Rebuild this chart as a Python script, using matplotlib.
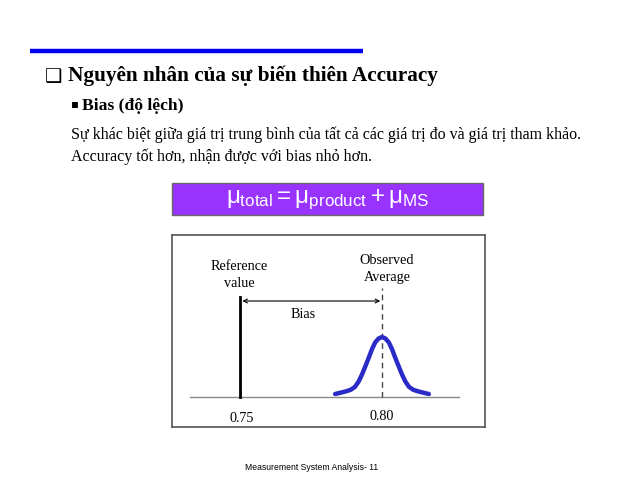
import matplotlib
matplotlib.use('Agg')
import matplotlib.pyplot as plt
from matplotlib.patches import Rectangle

# slide texts
slide_title = 'Nguyên nhân của sự biến thiên Accuracy'
sub_title = 'Bias (độ lệch)'
body_lines = ['Sự khác biệt giữa giá trị trung bình của tất cả các giá trị đo và giá trị tham khảo.',
              'Accuracy tốt hơn, nhận được với bias nhỏ hơn.']
formula = r'$\mu_{\mathrm{total}} = \mu_{\mathrm{product}} + \mu_{\mathrm{MS}}$'
footer = 'Measurement System Analysis- 11'

# chart values
ref_value = 0.75
obs_average = 0.80
tick_labels = ['0.75', '0.80']
curve_x = [0.7835, 0.7870, 0.7890, 0.7905, 0.7918, 0.7930, 0.7942, 0.7953, 0.7965,
           0.7976, 0.7988, 0.8000, 0.8012, 0.8024, 0.8035, 0.8047, 0.8058, 0.8070,
           0.8082, 0.8095, 0.8110, 0.8130, 0.8165]
curve_y = [0.05, 0.09, 0.12, 0.17, 0.26, 0.38, 0.52, 0.65, 0.80,
           0.91, 0.975, 1.00, 0.975, 0.91, 0.80, 0.65, 0.52, 0.38,
           0.26, 0.17, 0.12, 0.09, 0.05]

plt.rcParams['mathtext.fontset'] = 'custom'
plt.rcParams['mathtext.rm'] = 'Liberation Sans'
plt.rcParams['mathtext.it'] = 'Liberation Sans'

W, H = 638, 478
fig = plt.figure(figsize=(W / 100, H / 100), dpi=100)
fig.patch.set_facecolor('white')

# background axes in pixel units for the slide part
bg = fig.add_axes([0, 0, 1, 1])
bg.set_xlim(0, W)
bg.set_ylim(H, 0)
bg.axis('off')

serif = ['Liberation Serif', 'DejaVu Serif']
bg.plot([30, 363], [51, 51], color='#0000ee', lw=3.2, solid_capstyle='butt')
bg.text(45, 76, '❑', family=['DejaVu Sans'], fontsize=14, va='center', ha='left')
bg.text(68, 76, slide_title, family=serif, fontweight='bold', fontsize=15.3,
        va='center', ha='left')
bg.text(71, 104, '▪', family=['DejaVu Sans'], fontsize=8.5, va='center', ha='left')
bg.text(82, 106, sub_title, family=serif, fontweight='bold', fontsize=12.6,
        va='center', ha='left')
bg.text(71, 135, body_lines[0], family=serif, fontsize=11.5, va='center', ha='left')
bg.text(71, 157, body_lines[1], family=serif, fontsize=11.5, va='center', ha='left')

bg.add_patch(Rectangle((172, 183), 311, 32, facecolor='#9933ff', edgecolor='#666666', lw=1))
bg.text(328, 200, formula, color='white', fontsize=17.5, ha='center', va='center')

bg.text(312, 467, footer, family=['Liberation Sans Narrow', 'Liberation Sans'],
        fontsize=6.2, ha='center', va='center')

# chart axes: frame from 172..485 px, 235..427 px
x0 = ref_value - 68 / 2840
x1 = ref_value + 245 / 2840
ax = fig.add_axes([172 / W, (H - 427) / H, 313 / W, 192 / H])
ax.set_xlim(x0, x1)
ax.set_ylim(-0.5, 2.7)
ax.set_xticks([])
ax.set_yticks([])
for s in ax.spines.values():
    s.set_color('#555555')
    s.set_linewidth(1.2)

ax.plot([ref_value - 50 / 2840, ref_value + 219 / 2840], [0, 0], color='#888888', lw=1)
ax.plot([ref_value, ref_value], [0, 1.67], color='black', lw=2)
ax.plot([obs_average, obs_average], [0, 1.82], color='#444444', lw=1, ls=(0, (4, 3)))
ax.plot(curve_x, curve_y, color='#2b2bc8', lw=3.2, solid_capstyle='round',
        solid_joinstyle='round')

ax.annotate('', xy=(ref_value + 0.0008, 1.6), xytext=(obs_average - 0.0006, 1.6),
            arrowprops=dict(arrowstyle='<->', color='black', lw=0.8,
                            mutation_scale=7, shrinkA=0, shrinkB=0))
lab = 10.2
ax.text(0.7722, 1.38, 'Bias', family=serif, fontsize=lab, ha='center', va='center')
ax.text(ref_value - 0.0003, 2.03, 'Reference\nvalue', family=serif, fontsize=lab,
        ha='center', va='center', linespacing=1.4)
ax.text(obs_average + 0.0018, 2.13, 'Observed\nAverage', family=serif, fontsize=lab,
        ha='center', va='center', linespacing=1.4)
ax.text(ref_value + 0.0007, -0.35, tick_labels[0], family=serif, fontsize=lab,
        ha='center', va='center')
ax.text(obs_average, -0.32, tick_labels[1], family=serif, fontsize=lab,
        ha='center', va='center')

fig.savefig('out.png', dpi=100)
